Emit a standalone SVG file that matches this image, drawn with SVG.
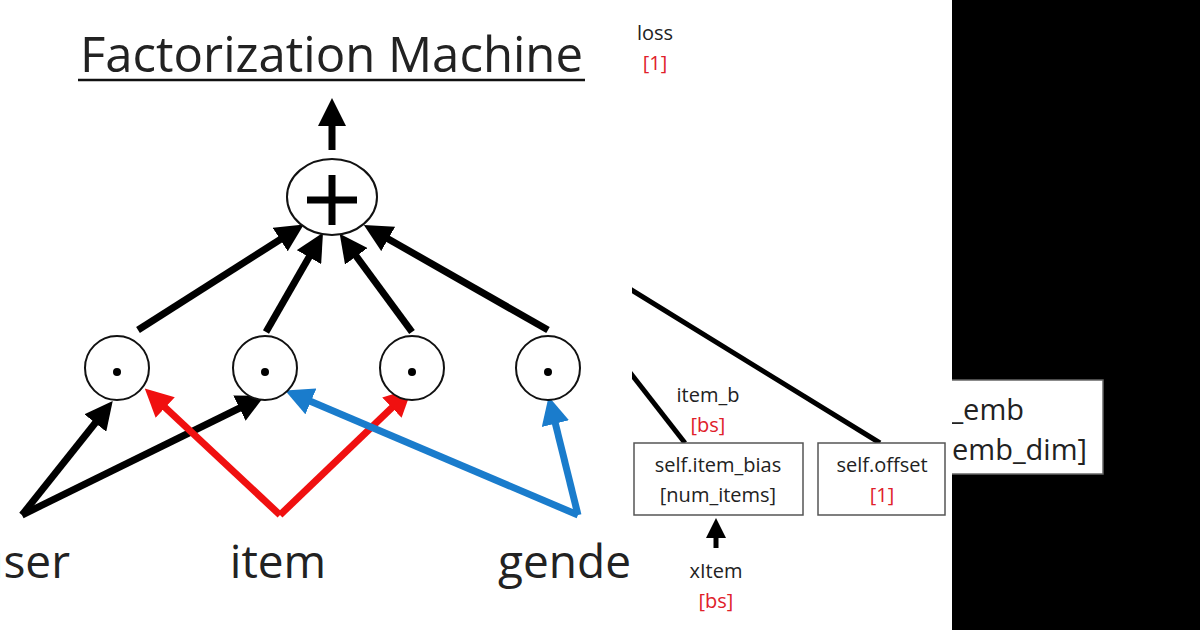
<svg xmlns="http://www.w3.org/2000/svg" width="1200" height="630" viewBox="0 0 1200 630">
<style>
text{font-family:"Open Sans","Liberation Sans",sans-serif;fill:#222}
.big{font-size:46px}
.sm{font-size:20px}
.red{fill:#e0202a}
.dc{fill:#fff;stroke:#111;stroke-width:2}
.k{stroke:#000;stroke-width:7;fill:none}
.r{stroke:#f01010;stroke-width:7;fill:none}
.b{stroke:#1a7ccc;stroke-width:7;fill:none}
.box{fill:#fff;stroke:#555;stroke-width:1.5}
</style>
<defs>
<marker id="ak" markerWidth="4" markerHeight="4" refX="2" refY="2" orient="auto" markerUnits="strokeWidth"><path d="M0,0L4,2L0,4z" fill="#000"/></marker>
<marker id="ar" markerWidth="4" markerHeight="4" refX="2" refY="2" orient="auto" markerUnits="strokeWidth"><path d="M0,0L4,2L0,4z" fill="#f01010"/></marker>
<marker id="ab" markerWidth="4" markerHeight="4" refX="2" refY="2" orient="auto" markerUnits="strokeWidth"><path d="M0,0L4,2L0,4z" fill="#1a7ccc"/></marker>
<clipPath id="cl"><rect x="0" y="0" width="632" height="630"/></clipPath>
<clipPath id="cm"><rect x="632" y="0" width="320" height="630"/></clipPath>
<clipPath id="cr"><rect x="952" y="0" width="248" height="630"/></clipPath>
</defs>
<rect width="1200" height="630" fill="#fff"/>
<rect x="952" y="0" width="248" height="630" fill="#000"/>
<g clip-path="url(#cl)">
<g id="title"><text x="80" y="72" style="font-size:50px" textLength="503" lengthAdjust="spacingAndGlyphs">Factorization Machine</text><line x1="78" y1="80" x2="585" y2="80" stroke="#111" stroke-width="2.5"/></g>
<g id="connectors">
<line class="k" x1="332" y1="150" x2="332" y2="112" marker-end="url(#ak)"/>
<line class="k" x1="138" y1="330" x2="292" y2="232" marker-end="url(#ak)"/>
<line class="k" x1="266" y1="332" x2="316" y2="245" marker-end="url(#ak)"/>
<line class="k" x1="412" y1="332" x2="348" y2="245" marker-end="url(#ak)"/>
<line class="k" x1="548" y1="330" x2="376" y2="232" marker-end="url(#ak)"/>
<line class="k" x1="22" y1="515" x2="104" y2="412" marker-end="url(#ak)"/>
<line class="k" x1="22" y1="515" x2="252" y2="402" marker-end="url(#ak)"/>
<line class="r" x1="280" y1="515" x2="155" y2="398" marker-end="url(#ar)"/>
<line class="r" x1="280" y1="515" x2="402" y2="398" marker-end="url(#ar)"/>
<line class="b" x1="578" y1="515" x2="298" y2="396" marker-end="url(#ab)"/>
<line class="b" x1="578" y1="515" x2="552" y2="410" marker-end="url(#ab)"/>
</g>
<g id="plus"><ellipse cx="332" cy="197" rx="45" ry="38" class="dc"/><path d="M307,200H357M332,175V225" stroke="#000" stroke-width="7"/></g>
<g id="dot1"><circle cx="117" cy="368" r="32" class="dc"/><circle cx="117" cy="372" r="4"/></g>
<g id="dot2"><circle cx="265" cy="368" r="32" class="dc"/><circle cx="265" cy="372" r="4"/></g>
<g id="dot3"><circle cx="412" cy="368" r="32" class="dc"/><circle cx="412" cy="372" r="4"/></g>
<g id="dot4"><circle cx="548" cy="368" r="32" class="dc"/><circle cx="548" cy="372" r="4"/></g>
<g id="user"><text class="big" x="70" y="578" text-anchor="end">user</text></g>
<g id="item"><text class="big" x="278" y="578" text-anchor="middle">item</text></g>
<g id="gender"><text class="big" x="498" y="578">gender</text></g>
</g>
<g clip-path="url(#cm)">
<g id="loss"><text class="sm" x="655" y="40" text-anchor="middle">loss</text><text class="sm red" x="655" y="70" text-anchor="middle">[1]</text></g>
<g id="mid-connectors">
<line x1="625" y1="286" x2="880" y2="443" stroke="#000" stroke-width="5"/>
<line x1="625" y1="366" x2="685" y2="443" stroke="#000" stroke-width="5"/>
<line x1="716" y1="548" x2="716" y2="528" stroke="#000" stroke-width="5" marker-end="url(#ak)"/>
</g>
<g id="itemb"><text class="sm" x="708" y="402" text-anchor="middle">item_b</text><text class="sm red" x="708" y="432" text-anchor="middle">[bs]</text></g>
<g id="itembias"><rect class="box" x="634" y="443" width="169" height="72"/><text class="sm" x="718" y="472" text-anchor="middle">self.item_bias</text><text class="sm" x="718" y="502" text-anchor="middle">[num_items]</text></g>
<g id="offset"><rect class="box" x="818" y="443" width="127" height="72"/><text class="sm" x="882" y="472" text-anchor="middle">self.offset</text><text class="sm red" x="882" y="502" text-anchor="middle">[1]</text></g>
<g id="xitem"><text class="sm" x="716" y="578" text-anchor="middle">xItem</text><text class="sm red" x="716" y="608" text-anchor="middle">[bs]</text></g>
</g>
<g clip-path="url(#cr)">
<g id="emb"><rect x="940" y="380" width="163" height="94" fill="#fff" stroke="#666" stroke-width="1.5"/>
<text x="1024" y="420" text-anchor="end" style="font-size:29px">_emb</text>
<text x="1087" y="460" text-anchor="end" style="font-size:29px">emb_dim]</text></g>
</g>
</svg>
